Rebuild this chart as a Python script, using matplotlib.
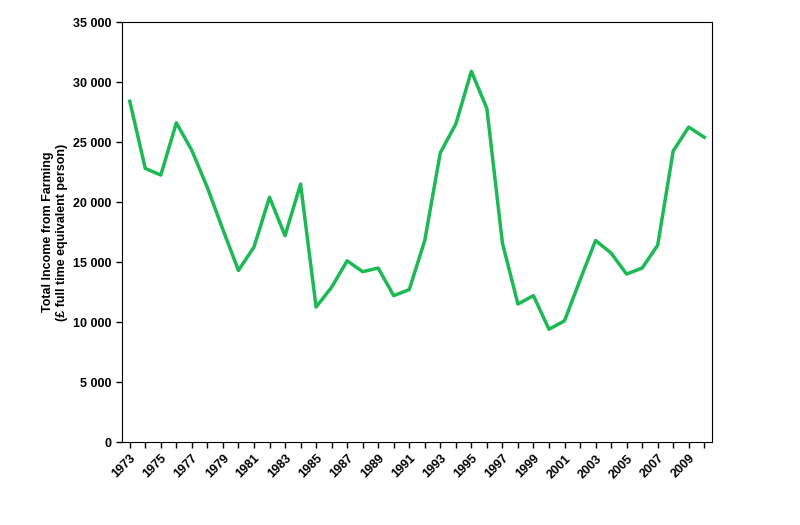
import matplotlib
matplotlib.use("Agg")
import matplotlib.pyplot as plt

years = list(range(1973, 2011))
income = [28400, 22800, 22250, 26600, 24300, 21200, 17700, 14300, 16250, 20400,
          17200, 21500, 11250, 12900, 15100, 14200, 14500, 12200, 12700, 16800,
          24100, 26500, 30900, 27800, 16600, 11500, 12200, 9400, 10100, 13500,
          16800, 15750, 14000, 14500, 16400, 24250, 26250, 25400]
yticks = list(range(0, 35001, 5000))

plt.rcParams['font.family'] = ['Liberation Sans', 'DejaVu Sans']
fig = plt.figure(figsize=(8, 5.25), dpi=100)
ax = fig.add_axes([0.1525, 0.158, 0.7375, 0.8])
ax.plot(years, income, color='#1db954', lw=2.5)
ax.set_xlim(1972.5, 2010.5)
ax.set_ylim(0, 35000)
ax.set_yticks(yticks)
ax.set_yticklabels([f"{v:,}".replace(",", " ") for v in yticks], fontsize=9, fontweight='bold')
ax.set_xticks(years, minor=True)
ax.set_xticks(years[::2])
ax.set_xticklabels([str(y) for y in years[::2]], rotation=45, ha='right',
                   rotation_mode='anchor', fontsize=9, fontweight='bold')
ax.tick_params(direction='out', length=4, width=1)
ax.tick_params(which='minor', direction='out', length=4, width=1)
ax.set_ylabel("Total Income from Farming\n(£ full time equivalent person)",
              fontsize=9, fontweight='bold')
fig.savefig("out.png", dpi=100)
